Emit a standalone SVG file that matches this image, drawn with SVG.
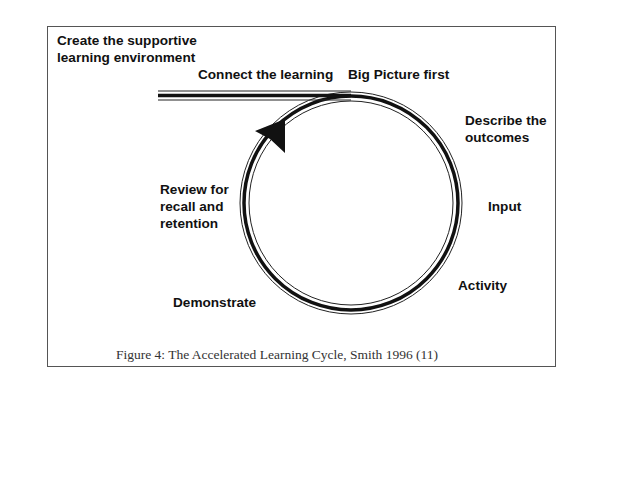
<svg xmlns="http://www.w3.org/2000/svg" width="638" height="478" viewBox="0 0 638 478">
<style>
.t{font-family:"Liberation Sans",Arial,sans-serif;font-weight:bold;font-size:13.6px;fill:#111}
.thin{fill:none;stroke:#222;stroke-width:1}
.thick{fill:none;stroke:#111;stroke-width:3.5}
</style>
<rect width="638" height="478" fill="#fff"/>
<rect x="47.5" y="26.5" width="508" height="340" fill="#fff" stroke="#555" stroke-width="1"/>
<g id="connectors">
<circle cx="351" cy="203" r="102" class="thin"/>
<circle cx="351" cy="203" r="107" class="thick"/>
<circle cx="351" cy="203" r="111" class="thin"/>
<path d="M158 91 H351" class="thin"/>
<path d="M158 95.5 H351" class="thick"/>
<path d="M158 100 H351" class="thin"/>
<polygon points="285,119 255,131 270,139 285,153" fill="#111"/>
</g>
<g id="n1"><text class="t" x="57" y="45">Create the supportive</text><text class="t" x="57" y="62">learning environment</text></g>
<g id="n2"><text class="t" x="198" y="79">Connect the learning</text></g>
<g id="n3"><text class="t" x="348" y="79">Big Picture first</text></g>
<g id="n4"><text class="t" x="465" y="125">Describe the</text><text class="t" x="465" y="142">outcomes</text></g>
<g id="n5"><text class="t" x="488" y="211">Input</text></g>
<g id="n6"><text class="t" x="458" y="290">Activity</text></g>
<g id="n7"><text class="t" x="173" y="307">Demonstrate</text></g>
<g id="n8"><text class="t" x="160" y="194">Review for</text><text class="t" x="160" y="211">recall and</text><text class="t" x="160" y="228">retention</text></g>
<text x="116" y="359" font-family="Liberation Serif,serif" font-size="13.5" fill="#333">Figure 4: The Accelerated Learning Cycle, Smith 1996 (11)</text>
</svg>
